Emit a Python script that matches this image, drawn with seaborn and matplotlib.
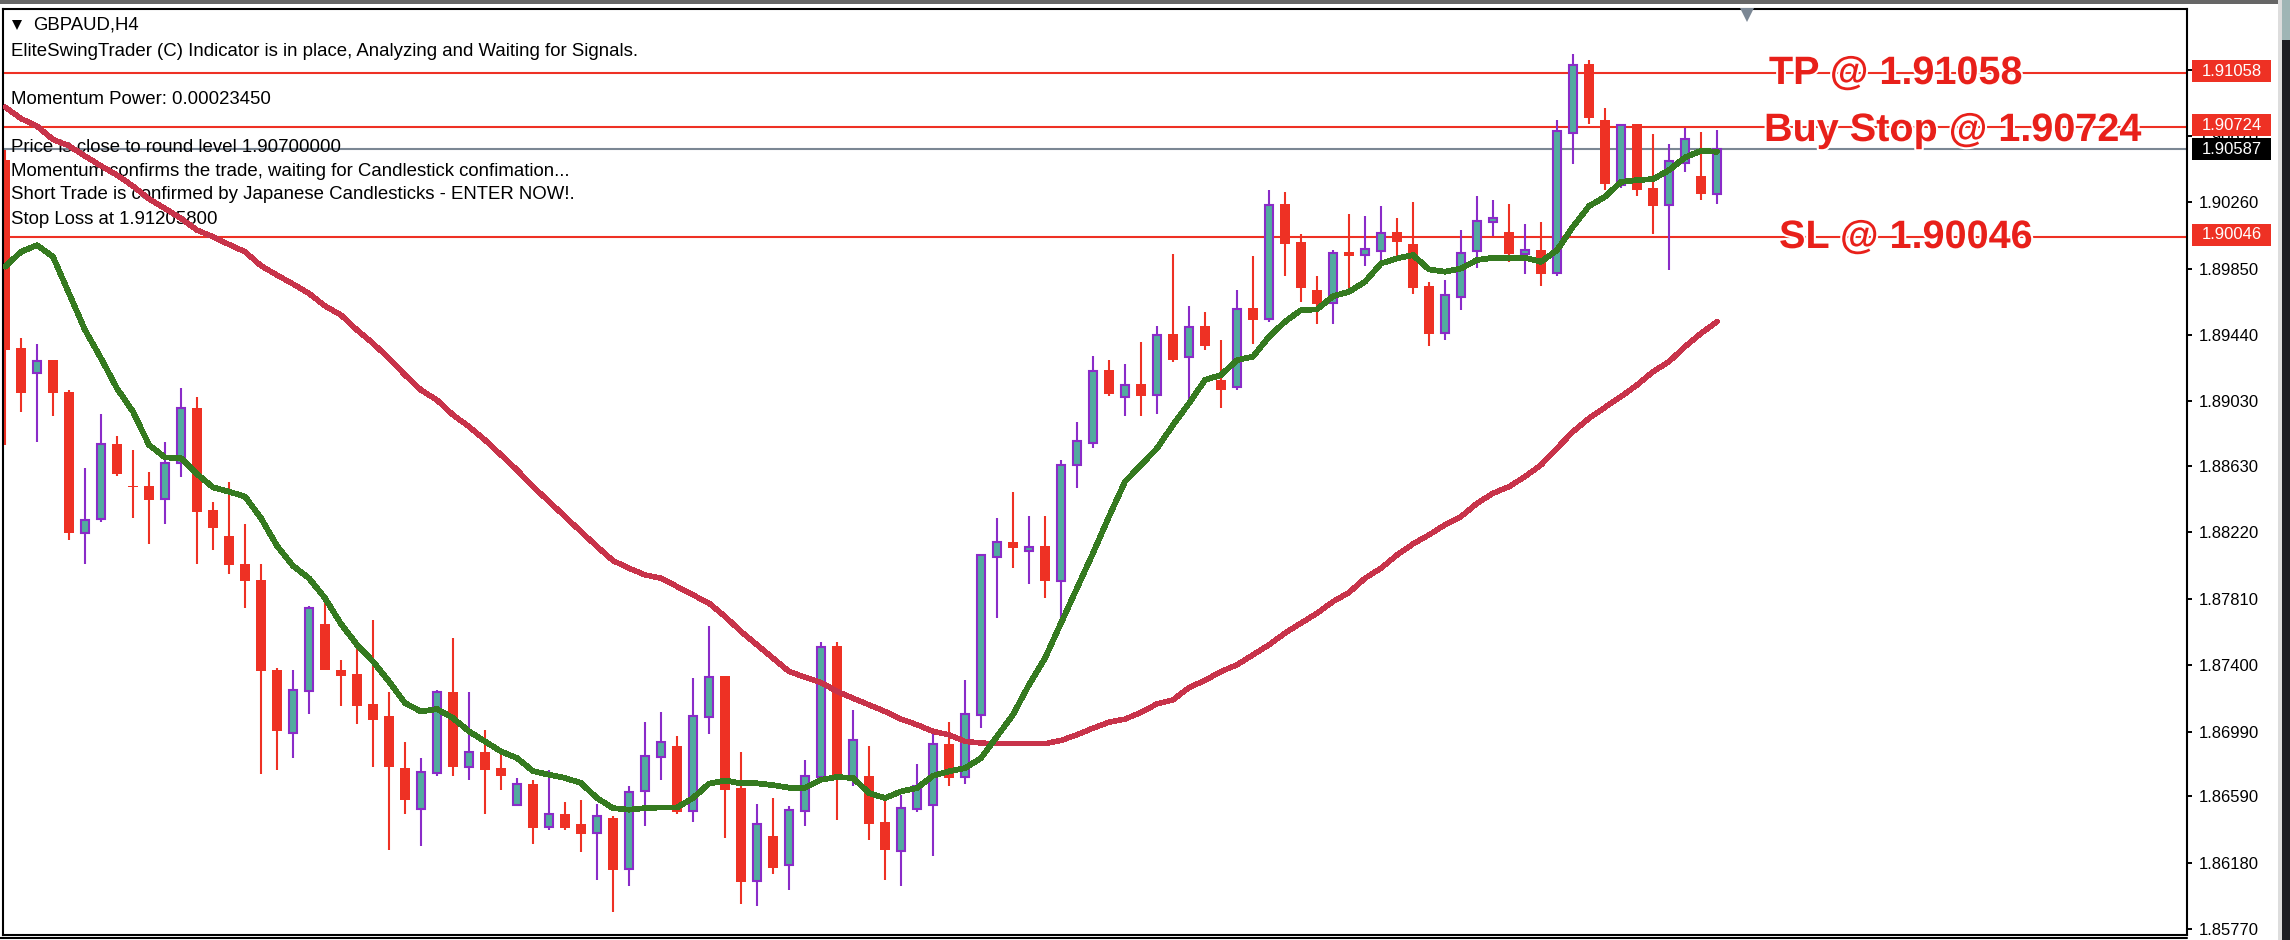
import numpy as np
import pandas as pd
import matplotlib
matplotlib.use('Agg')
import matplotlib.pyplot as plt
import matplotlib.patheffects as pe
from matplotlib.lines import Line2D
from matplotlib.patches import Rectangle
import seaborn as sns

# precios en puntos (1 punto = 0.00001)
open_pts = [190520,189357,189203,189285,189088,188215,188302,188765,188507,188507,188425,188647,188987,188359,188199,188026,187927,187371,186980,187240,
            187655,187371,187347,187161,187087,186766,186511,186733,187236,186770,186865,186766,186536,186668,186400,186482,186421,186363,186458,186141,
            186622,186832,186902,186499,187079,187334,186643,186067,186347,186165,186499,186709,187520,186692,186717,186433,186252,186511,186536,186915,
            186709,187092,188067,188162,188104,188137,187919,188635,188771,189224,189055,189137,189067,189446,189302,189495,189162,189117,189606,189536,
            190249,190014,189718,189635,189952,189932,189956,190076,190002,189742,189450,189672,189956,190137,190076,189940,189964,189820,190685,191113,
            190767,190364,190742,190347,190240,190500,190421,190314]
high_pts = [190582,189419,189384,189285,189100,188616,188950,188816,188730,188594,188777,189110,189059,188409,188532,188273,188026,187382,187371,187767,
            187804,187433,187515,187680,187236,186927,186828,187248,187569,187236,187001,186857,186705,186692,186754,186556,186569,186544,186470,186655,
            187050,187112,186964,187322,187643,187334,186865,186544,186581,186532,186816,187544,187544,187124,186902,186579,186600,186791,186991,187050,
            187310,188083,188310,188470,188322,188322,188668,188903,189310,189285,189261,189396,189495,189940,189619,189582,189409,189718,189927,190335,
            190323,190063,189804,189964,190187,190174,190236,190162,190261,189767,189779,190088,190298,190273,190249,190125,190137,190767,191175,191138,
            190841,190742,190742,190681,190619,190718,190693,190705]
low_pts = [188761,188966,188781,188942,188174,188026,188287,188569,188312,188149,188273,188561,188026,188112,187964,187756,186729,186754,186828,187100,
           187371,187149,187038,186768,186260,186482,186285,186717,186717,186692,186482,186631,186536,186297,186384,186384,186248,186075,185877,186038,
           186408,186692,186482,186433,186976,186334,185927,185914,186112,186013,186408,186709,186445,186655,186322,186075,186038,186495,186223,186655,
           186668,187013,187692,188001,187902,187818,187660,188495,188742,189063,188940,188940,188952,189273,189028,189347,188989,189100,189384,189520,
           189804,189643,189508,189508,189718,189866,189882,189903,189693,189372,189409,189594,189853,190051,189890,189816,189742,189804,190495,190742,
           190335,190347,190298,190063,189841,190446,190273,190249]
close_pts = [189347,189080,189281,189080,188215,188298,188765,188581,188499,188421,188652,188987,188349,188250,188016,187917,187361,186991,187244,187752,
             187371,187334,187149,187063,186768,186569,186738,187234,186768,186861,186754,186717,186663,186396,186478,186396,186359,186466,186137,186614,
             186836,186923,186495,187083,187330,186631,186062,186416,186149,186503,186713,187515,186713,186935,186421,186260,186515,186651,186910,186705,
             187096,188083,188158,188125,188133,187917,188639,188787,189220,189075,189133,189063,189442,189285,189491,189372,189100,189602,189532,190244,
             190002,189730,189631,189948,189927,189973,190072,190014,189730,189446,189689,189948,190146,190162,189940,189964,189816,190701,191109,190779,
             190372,190738,190335,190236,190516,190652,190310,190590]
ma_verde_pts = [189862,189954,189995,189923,189697,189471,189296,189110,188966,188761,188684,188678,188581,188499,188472,188442,188308,188137,188014,187937,
                187814,187655,187526,187423,187299,187166,187114,187129,187073,186991,186929,186867,186826,186746,186723,186703,186672,186579,186517,186507,
                186517,186521,186521,186579,186668,186688,186670,186670,186659,186643,186643,186692,186709,186703,186610,186579,186620,186641,186717,186744,
                186764,186826,186960,187094,187279,187443,187660,187876,188092,188318,188534,188637,188740,188884,189018,189162,189193,189285,189306,189429,
                189522,189594,189598,189680,189707,189769,189882,189913,189934,189845,189831,189851,189903,189917,189917,189917,189892,189964,190109,190236,
                190294,190386,190397,190403,190458,190537,190578,190572]
ma_roja_pts = [190849,190777,190730,190648,190609,190545,190485,190428,190360,190281,190222,190160,190088,190047,189999,189954,189868,189810,189755,189697,
               189619,189563,189471,189388,189296,189193,189100,189038,188946,188874,188791,188699,188606,188503,188411,188318,188225,188133,188046,187999,
               187958,187937,187886,187834,187783,187701,187608,187526,187443,187361,187326,187293,187238,187196,187155,187114,187067,187032,186991,186970,
               186929,186919,186915,186915,186915,186915,186935,186970,187011,187048,187067,187108,187161,187186,187262,187306,187361,187402,187464,187526,
               187598,187660,187721,187793,187849,187937,187999,188081,188149,188205,188267,188318,188400,188462,188503,188565,188637,188740,188843,188925,
               188993,189059,189131,189213,189275,189368,189450,189522]

precio_ticks = [1.85770,1.86180,1.86590,1.86990,1.87400,1.87810,1.88220,1.88630,1.89030,1.89440,1.89850,1.90260,1.90670,1.91080]
niveles = [1.91058, 1.90724, 1.90046]
niveles_txt = ['TP @ 1.91058', 'Buy Stop @ 1.90724', 'SL @ 1.90046']
precio_actual = 1.90587

lineas_info = ['EliteSwingTrader (C) Indicator is in place, Analyzing and Waiting for Signals.',
               'Momentum Power: 0.00023450',
               'Price is close to round level 1.90700000',
               'Momentum confirms the trade, waiting for Candlestick confimation...',
               'Short Trade is confirmed by Japanese Candlesticks - ENTER NOW!.',
               'Stop Loss at 1.91205800']

ROJO = '#ee3124'
VIOLETA = '#8a2bc8'
TEAL = '#52ab9f'
GRIS = '#7b8794'

sns.set_theme(style='white')
plt.rcParams['font.family'] = ['Liberation Sans', 'DejaVu Sans']

W, H = 2290, 940
fig = plt.figure(figsize=(W / 100, H / 100), dpi=100, facecolor='white')
ax = fig.add_axes([2.5 / W, 1 - 935 / H, 2184.5 / W, 926 / H])

df = pd.DataFrame({'i': np.arange(len(open_pts)), 'open': np.array(open_pts) / 1e5, 'high': np.array(high_pts) / 1e5,
                   'low': np.array(low_pts) / 1e5, 'close': np.array(close_pts) / 1e5,
                   'ma_verde': np.array(ma_verde_pts) / 1e5, 'ma_roja': np.array(ma_roja_pts) / 1e5})
sube = df[df['close'] >= df['open']]
baja = df[df['close'] < df['open']]

# niveles
for nivel in niveles:
    ax.axhline(nivel, color=ROJO, lw=1.5, zorder=1)
ax.axhline(precio_actual, color=GRIS, lw=1.5, zorder=1)

# velas
ax.vlines(baja['i'], baja['low'], baja['high'], color=ROJO, lw=1.5, zorder=2)
ax.vlines(sube['i'], sube['low'], sube['high'], color=VIOLETA, lw=1.5, zorder=2)
ax.bar(baja['i'], baja['close'] - baja['open'], bottom=baja['open'], width=0.625, color=ROJO, lw=0, zorder=2.1)
ax.bar(sube['i'], sube['close'] - sube['open'], bottom=sube['open'], width=0.5, color=TEAL, edgecolor=VIOLETA, lw=1.5, zorder=2.1)

# medias
sns.lineplot(data=df, x='i', y='ma_roja', color='#c8334a', lw=3.2, estimator=None, ax=ax, zorder=3, antialiased=False)
sns.lineplot(data=df, x='i', y='ma_verde', color='#357a20', lw=3.4, estimator=None, ax=ax, zorder=3.1, antialiased=False)

ax.set_xlim((2.5 - 5) / 16, (2187 - 5) / 16)
ax.set_ylim(1.85733, 1.91454)
ax.set_xlabel('')
ax.set_ylabel('')
ax.set_xticks([])
ax.yaxis.tick_right()
ax.set_yticks(precio_ticks)
ax.set_yticklabels([f'{p:.5f}' for p in precio_ticks], fontsize=12, color='black')
ax.tick_params(axis='y', length=3.6, width=1.4, pad=5, color='black', right=True)
for s in ax.spines.values():
    s.set_color('black')
    s.set_linewidth(1.5)

# textos de arriba a la izquierda
ys_info = [52, 99, 147, 172, 195, 219]
for txt, y in zip(lineas_info, ys_info):
    ax.text(11 / W, 1 - y / H, txt, transform=fig.transFigure, fontsize=13.4, color='black', va='center', ha='left', zorder=2.5)
ax.text(33 / W, 1 - 25 / H, 'GBPAUD,H4', transform=fig.transFigure, fontsize=13.4, color='black', va='center', ha='left', zorder=2.5)
ax.plot([17 / W], [1 - 25 / H], marker='v', ms=7, color='black', mew=0, transform=fig.transFigure, clip_on=False, zorder=6)

# textos de los niveles
xs_txt = [1896, 1953, 1906]
ys_txt = [73, 130, 237]
for txt, x, y in zip(niveles_txt, xs_txt, ys_txt):
    ax.text(x / W, 1 - y / H, txt, transform=fig.transFigure, fontsize=28.5, fontweight='bold', color='#e8201a', ha='center', va='center',
            zorder=5, path_effects=[pe.withStroke(linewidth=3, foreground='white')])

# etiquetas del eje derecho
trans = ax.get_yaxis_transform()
x0 = (2192 - 2.5) / 2184.5
ancho = 79 / 2184.5
alto = 22 * 6.174e-5
for nivel in niveles:
    centro = nivel + 2 * 6.174e-5
    ax.add_patch(Rectangle((x0, centro - alto / 2), ancho, alto, transform=trans, fc=ROJO, ec='none', clip_on=False, zorder=6))
    ax.text(x0 + ancho / 2, centro, f'{nivel:.5f}', transform=trans, color='white', fontsize=12, ha='center', va='center', zorder=7)
ax.add_patch(Rectangle((x0, precio_actual - alto / 2), ancho, alto, transform=trans, fc='black', ec='none', clip_on=False, zorder=6))
ax.text(x0 + ancho / 2, precio_actual, f'{precio_actual:.5f}', transform=trans, color='white', fontsize=12, ha='center', va='center', zorder=7)

# triangulo de desplazamiento
ax.plot([(1747 - 5) / 16], [1 - 6 / 926], marker='v', ms=10, color=GRIS, mew=0, transform=ax.get_xaxis_transform(), clip_on=False, zorder=6)

# marco de la ventana
fig.add_artist(Rectangle((0, 1 - 3.5 / H), 2278 / W, 3.5 / H, transform=fig.transFigure, fc='#666666', ec='none'))
fig.add_artist(Rectangle((2278 / W, 0), 4 / W, 1, transform=fig.transFigure, fc='#dddddd', ec='none'))
fig.add_artist(Rectangle((2282 / W, 0), 8 / W, 1, transform=fig.transFigure, fc='#1c1d22', ec='none'))
fig.add_artist(Rectangle((2282 / W, 1 - 40 / H), 8 / W, 40 / H, transform=fig.transFigure, fc='#9fb5b5', ec='none'))
fig.add_artist(Line2D([0, 2187 / W], [1 - 938 / H, 1 - 938 / H], transform=fig.transFigure, color='black', lw=1.5))

fig.savefig('out.png', dpi=100, facecolor='white')
